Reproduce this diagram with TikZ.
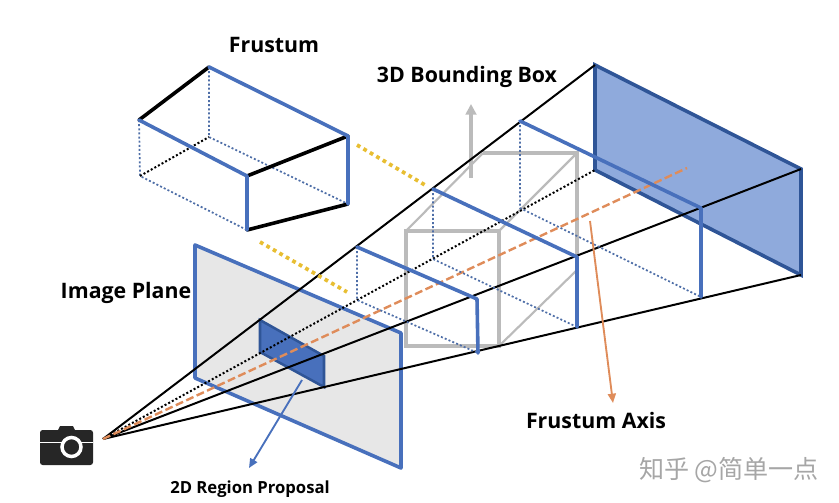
\documentclass[tikz,border=0pt]{standalone}
\usepackage{fontspec}
\setmainfont{Open Sans}
\newfontfamily\cjkfont{Noto Sans CJK SC}
\usetikzlibrary{arrows.meta}
\definecolor{FrustumBlue}{RGB}{72,112,188}
\definecolor{FarBlue}{RGB}{143,170,220}
\definecolor{DarkBlue}{RGB}{47,85,151}
\definecolor{PlaneGrey}{RGB}{231,231,231}
\definecolor{CubeGrey}{RGB}{187,187,187}
\definecolor{AxisOrange}{RGB}{223,140,90}
\definecolor{GuideYellow}{RGB}{232,190,50}
\tikzset{
  edgeblue/.style={draw=FrustumBlue, line width=2.7pt, line cap=round, line join=round},
  hiddenblue/.style={draw=DarkBlue!85!white, line width=1.3pt, dash pattern=on 1.5pt off 1.6pt},
  ray/.style={draw=black, line width=1.5pt},
  hiddenray/.style={draw=black, line width=1.5pt, dash pattern=on 1.5pt off 1.6pt},
  boxblack/.style={draw=black, line width=2.7pt, line cap=round},
  cubeedge/.style={draw=CubeGrey, line width=2.7pt},
  cubethin/.style={draw=CubeGrey, line width=1.6pt},
  guide/.style={draw=GuideYellow, line width=2.8pt, dash pattern=on 2.8pt off 2.8pt},
  axisdash/.style={draw=AxisOrange, line width=1.8pt, dash pattern=on 6pt off 2.6pt},
  caption/.style={font=\bfseries\fontsize{16}{18}\selectfont, inner sep=0pt},
}
\begin{document}
\begin{tikzpicture}[x=0.75pt, y=-0.75pt]
  \useasboundingbox (0,0) rectangle (839,503);
  % Apex and far plane
  \coordinate (apex) at (103,439);
  \coordinate (farTL) at (595,65);
  \coordinate (farTR) at (801,169);
  \coordinate (farBR) at (801,275);
  \coordinate (farBL) at (595,170);
  % Slices
  \coordinate (aTL) at (357,247);
  \coordinate (aTR) at (477,299);
  \coordinate (aBR) at (478,353);
  \coordinate (aBL) at (357,300);
  \coordinate (bTL) at (433,189);
  \coordinate (bTR) at (577,257);
  \coordinate (bBR) at (577,327);
  \coordinate (bBL) at (433,259);
  \coordinate (cTL) at (520,121);
  \coordinate (cTR) at (701,208);
  \coordinate (cBR) at (701,297);
  \coordinate (cBL) at (520,208);
  % Image plane
  \coordinate (planeTL) at (195,245);
  \coordinate (planeTR) at (401,333);
  \coordinate (planeBR) at (401,468);
  \coordinate (planeBL) at (195,378);
  \filldraw[edgeblue, fill=PlaneGrey] (planeTL) -- (planeTR) -- (planeBR) -- (planeBL) -- cycle;
  % Region proposal
  \coordinate (regionTL) at (260,320);
  \coordinate (regionTR) at (324,356);
  \coordinate (regionBR) at (324,387);
  \coordinate (regionBL) at (260,352);
  \filldraw[draw=DarkBlue, line width=1.9pt, fill=FrustumBlue] (regionTL) -- (regionTR) -- (regionBR) -- (regionBL) -- cycle;
  % Far plane
  \filldraw[draw=DarkBlue, line width=2.7pt, fill=FarBlue] (farTL) -- (farTR) -- (farBR) -- (farBL) -- cycle;
  % Cube
  \coordinate (cubeTL) at (406,231);
  \coordinate (cubeTR) at (499,231);
  \coordinate (cubeBR) at (499,346);
  \coordinate (cubeBL) at (406,346);
  \coordinate (cubeBackL) at (483,153);
  \coordinate (cubeBackR) at (577,153);
  \coordinate (cubeBackB) at (577,270);
  \draw[cubethin] (cubeTL) -- (cubeBackL);
  \draw[cubethin] (cubeTR) -- (cubeBackR);
  \draw[cubethin] (cubeBR) -- (cubeBackB);
  \draw[cubeedge] (cubeBackL) -- (cubeBackR) -- (cubeBackB);
  \draw[cubeedge] (cubeTL) -- (cubeTR) -- (cubeBR) -- (cubeBL) -- cycle;
  \coordinate (upStart) at (471,178);
  \coordinate (upEnd) at (471,104);
  \draw[-{Triangle[length=8pt,width=8pt]}, draw=CubeGrey, fill=CubeGrey, line width=2.7pt] (upStart) -- (upEnd);
  % Rays
  \draw[ray] (apex) -- (farTL);
  \draw[ray] (apex) -- (farTR);
  \draw[ray] (apex) -- (farBR);
  \draw[hiddenray] (apex) -- (farBL);
  \coordinate (axisEnd) at (687,168);
  \draw[axisdash] (apex) -- (axisEnd);
  % Frustum slices
  \draw[hiddenblue] (aTL) -- (aBL) -- (aBR);
  \draw[hiddenblue] (bTL) -- (bBL) -- (bBR);
  \draw[hiddenblue] (cTL) -- (cBL) -- (cBR);
  \draw[edgeblue] (aTL) -- (aTR) -- (aBR);
  \draw[edgeblue] (bTL) -- (bTR) -- (bBR);
  \draw[edgeblue] (cTL) -- (cTR) -- (cBR);
  % Frustum box
  \coordinate (boxBack) at (209,67);
  \coordinate (boxLeft) at (139,120);
  \coordinate (boxFront) at (247,176);
  \coordinate (boxRight) at (348,136);
  \coordinate (boxBackB) at (209,137);
  \coordinate (boxLeftB) at (140,176);
  \coordinate (boxFrontB) at (247,230);
  \coordinate (boxRightB) at (348,204);
  \draw[hiddenblue] (boxLeft) -- (boxLeftB) -- (boxFrontB);
  \draw[hiddenblue] (boxBack) -- (boxBackB) -- (boxRightB);
  \draw[hiddenray] (boxLeftB) -- (boxBackB);
  \draw[boxblack] (boxLeft) -- (boxBack);
  \draw[boxblack] (boxFront) -- (boxRight);
  \draw[boxblack] (boxFrontB) -- (boxRightB);
  \draw[edgeblue] (boxLeft) -- (boxFront) -- (boxFrontB);
  \draw[edgeblue] (boxBack) -- (boxRight) -- (boxRightB);
  % Yellow guides
  \coordinate (guideAs) at (357,145);
  \coordinate (guideAe) at (425,185);
  \coordinate (guideBs) at (260,242);
  \coordinate (guideBe) at (347,292);
  \draw[guide] (guideAs) -- (guideAe);
  \draw[guide] (guideBs) -- (guideBe);
  % Pointers
  \coordinate (axisStart) at (590,221);
  \coordinate (axisTip) at (613,403);
  \draw[-{Triangle[length=7pt,width=6pt]}, draw=AxisOrange, line width=1.4pt] (axisStart) -- (axisTip);
  \coordinate (regionStart) at (302,380);
  \coordinate (regionTip) at (249,468);
  \draw[-{Triangle[length=7pt,width=6pt]}, draw=FrustumBlue, line width=1.4pt] (regionStart) -- (regionTip);
  % Camera
  \fill[black!85] (58,430) -- (60,426) -- (73,426) -- (75,430) -- cycle;
  \fill[black!85, rounded corners=2pt] (40,430) rectangle (93,465);
  \draw[white, line width=0.7pt] (40,442) -- (93,442);
  \filldraw[draw=white, line width=2.6pt, fill=black!85] (71.5,447) circle (9.5);
  % Labels
  \node[caption] (frustumLabel) at (274,45) {Frustum};
  \node[caption] (boxLabel) at (467,77) {3D Bounding Box};
  \node[caption] (planeLabel) at (126,292.5) {Image Plane};
  \node[caption] (axisLabel) at (596,420) {Frustum Axis};
  \node[caption, font=\bfseries\fontsize{12.5}{14}\selectfont] (regionLabel) at (250,489) {2D Region Proposal};
  \node[inner sep=0pt, text=black!35, font=\fontsize{18.8}{20}\selectfont] (markLabel) at (729,470) {{\cjkfont 知乎 @简单一点}};
\end{tikzpicture}
\end{document}
